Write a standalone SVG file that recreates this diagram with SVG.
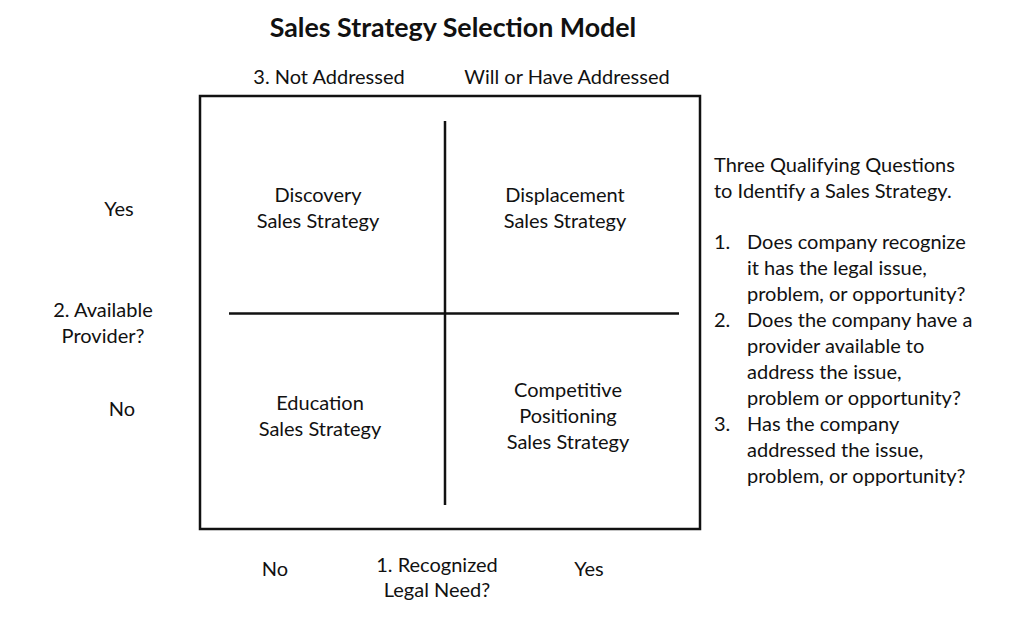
<svg xmlns="http://www.w3.org/2000/svg" width="1024" height="630" viewBox="0 0 1024 630">
<style>
text{font-family:Lato,"Open Sans","Liberation Sans",sans-serif;font-size:20px;fill:#111}
.c{text-anchor:middle}
.t{font-size:26.8px;font-weight:bold}
.ln{stroke:#111;stroke-width:2.5;fill:none}
</style>
<rect width="1024" height="630" fill="#fff"/>
<text class="t c" x="453" y="37">Sales Strategy Selection Model</text>
<g id="axis-labels">
<text class="c" x="329" y="84">3. Not Addressed</text>
<text class="c" x="567" y="84">Will or Have Addressed</text>
<text class="c" x="119" y="216">Yes</text>
<text class="c" x="103" y="317">2. Available</text>
<text class="c" x="103" y="343">Provider?</text>
<text class="c" x="122" y="416">No</text>
<text class="c" x="275" y="576">No</text>
<text class="c" x="437" y="572">1. Recognized</text>
<text class="c" x="437" y="597">Legal Need?</text>
<text class="c" x="589" y="576">Yes</text>
</g>
<g id="connectors">
<rect class="ln" x="200" y="96" width="500" height="433"/>
<line class="ln" x1="445" y1="121" x2="445" y2="505"/>
<line class="ln" x1="229" y1="313.5" x2="679" y2="313.5"/>
</g>
<g id="discovery">
<text class="c" x="318" y="202">Discovery</text>
<text class="c" x="318" y="228">Sales Strategy</text>
</g>
<g id="displacement">
<text class="c" x="565" y="202">Displacement</text>
<text class="c" x="565" y="228">Sales Strategy</text>
</g>
<g id="education">
<text class="c" x="320" y="410">Education</text>
<text class="c" x="320" y="436">Sales Strategy</text>
</g>
<g id="competitive">
<text class="c" x="568" y="397">Competitive</text>
<text class="c" x="568" y="423">Positioning</text>
<text class="c" x="568" y="449">Sales Strategy</text>
</g>
<g id="questions">
<text x="714" y="172">Three Qualifying Questions</text>
<text x="714" y="198">to Identify a Sales Strategy.</text>
<text x="714" y="249">1.</text>
<text x="747" y="249">Does company recognize</text>
<text x="747" y="275">it has the legal issue,</text>
<text x="747" y="301">problem, or opportunity?</text>
<text x="714" y="327">2.</text>
<text x="747" y="327">Does the company have a</text>
<text x="747" y="353">provider available to</text>
<text x="747" y="379">address the issue,</text>
<text x="747" y="405">problem or opportunity?</text>
<text x="714" y="431">3.</text>
<text x="747" y="431">Has the company</text>
<text x="747" y="457">addressed the issue,</text>
<text x="747" y="483">problem, or opportunity?</text>
</g>
</svg>
